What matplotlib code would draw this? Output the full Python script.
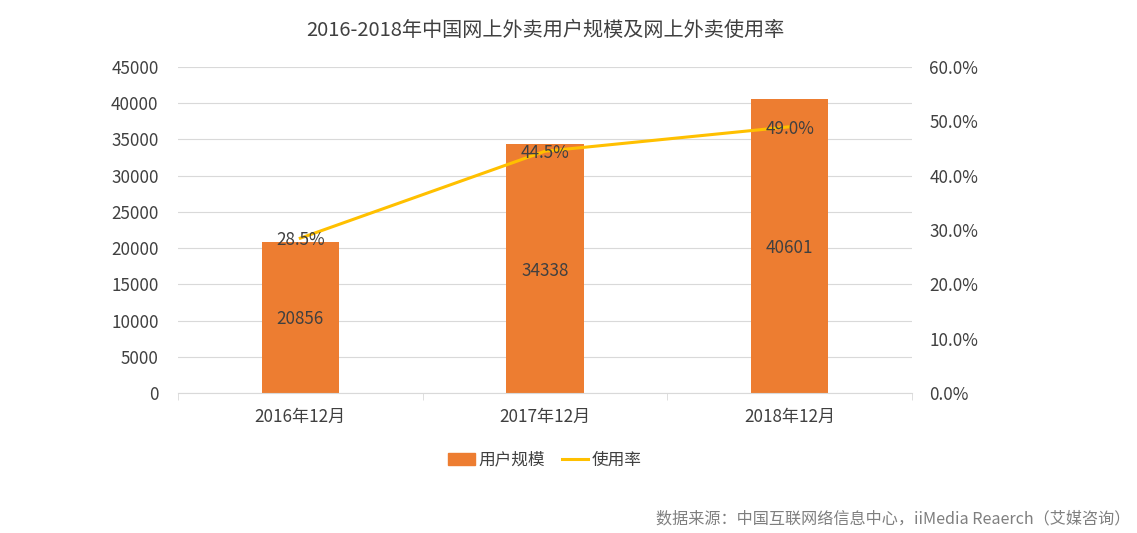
import matplotlib.pyplot as plt
import numpy as np
from matplotlib.patches import Patch
from matplotlib.lines import Line2D

plt.rcParams['font.family'] = ['Noto Sans CJK SC', 'DejaVu Sans']

categories = ["2016年12月", "2017年12月", "2018年12月"]
users = [20856, 34338, 40601]
usage_rate = [28.5, 44.5, 49.0]

BAR_COLOR = "#ED7D31"
LINE_COLOR = "#FFC000"
TEXT_COLOR = "#404040"
FS = 12.3

fig = plt.figure(figsize=(11.37, 5.33), dpi=100)
ax = fig.add_axes([178 / 1137, 1 - 393 / 533, (912 - 178) / 1137, (393 - 67) / 533])
ax2 = ax.twinx()

x = np.arange(len(categories))
ax.bar(x, users, width=0.315, color=BAR_COLOR, zorder=2)
for xi, v in zip(x, users):
    ax.text(xi, v / 2, str(v), ha="center", va="center_baseline", fontsize=FS,
            color=TEXT_COLOR, zorder=4)

ax.set_xlim(-0.5, 2.5)
ax.set_ylim(0, 45000)
ax.set_yticks(np.arange(0, 45001, 5000))
ax.grid(axis="y", color="#D9D9D9", linewidth=0.8, zorder=0)
ax.set_axisbelow(True)
ax.set_xticks(x)
ax.set_xticklabels(categories)
ax.set_xticks([-0.5, 0.5, 1.5, 2.5], minor=True)
ax.tick_params(axis="x", which="major", length=0, pad=11, labelsize=FS, labelcolor=TEXT_COLOR)
ax.tick_params(axis="x", which="minor", length=5, color="#D9D9D9")
ax.tick_params(axis="y", length=0, pad=14, labelsize=FS, labelcolor=TEXT_COLOR)
for s in ("top", "right", "left"):
    ax.spines[s].set_visible(False)
ax.spines["bottom"].set_color("#D9D9D9")

ax2.plot(x, usage_rate, color=LINE_COLOR, linewidth=2.2, zorder=3)
for xi, v in zip(x, usage_rate):
    ax2.text(xi, v, f"{v:.1f}%", ha="center", va="center_baseline", fontsize=FS,
             color=TEXT_COLOR, zorder=5)
ax2.set_ylim(0, 60)
ax2.set_yticks(np.arange(0, 61, 10))
ax2.set_yticklabels([f"{t:.1f}%" for t in np.arange(0, 61, 10)])
ax2.tick_params(axis="y", length=0, pad=12.5, labelsize=FS, labelcolor=TEXT_COLOR)
for s in ax2.spines.values():
    s.set_visible(False)

fig.text(545 / 1137, 1 - 30 / 533, "2016-2018年中国网上外卖用户规模及网上外卖使用率",
         ha="center", va="center", fontsize=14.5, color=TEXT_COLOR)

handles = [Patch(color=BAR_COLOR, label="用户规模"),
           Line2D([0], [0], color=LINE_COLOR, linewidth=2.2, label="使用率")]
fig.legend(handles=handles, loc="center", bbox_to_anchor=(545 / 1137, 1 - 460 / 533), ncol=2,
           frameon=False, fontsize=12, labelcolor=TEXT_COLOR, handlelength=1.6,
           handleheight=0.7, columnspacing=1.0, handletextpad=0.2)

fig.text(1130 / 1137, 1 - 519 / 533, "数据来源：中国互联网络信息中心，iiMedia Reaerch（艾媒咨询）",
         ha="right", va="center", fontsize=11.6, color="#7F7F7F")

fig.savefig("out.png", dpi=100, facecolor="white")
